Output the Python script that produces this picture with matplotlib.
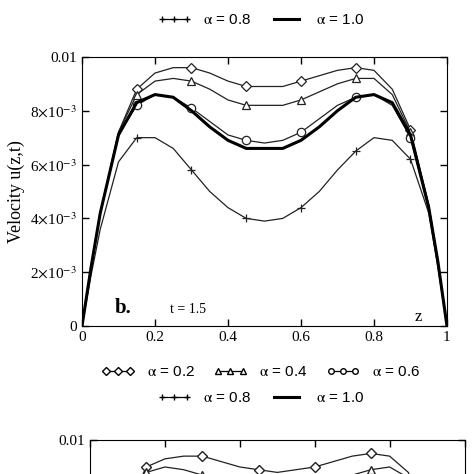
import numpy as np
from matplotlib import pyplot as plt
from matplotlib.lines import Line2D

plt.rc('font', family='Liberation Serif', size=11)
plt.rc('mathtext', fontset='stix')

# data
z = [0, 0.025, 0.05, 0.1, 0.15, 0.2, 0.25, 0.3, 0.35, 0.4, 0.45, 0.5, 0.55,
     0.6, 0.65, 0.7, 0.75, 0.8, 0.85, 0.9, 0.95, 0.975, 1]
u_02 = [0, 0.0022, 0.0042, 0.0072, 0.0088, 0.0094, 0.0096, 0.0096, 0.0094, 0.0091, 0.0089, 0.0089,
        0.0089, 0.0091, 0.0093, 0.0095, 0.0096, 0.0095, 0.0088, 0.0073, 0.0045, 0.0024, 0]
u_04 = [0, 0.0022, 0.0042, 0.0072, 0.0086, 0.0091, 0.0092, 0.0091, 0.0088, 0.0084, 0.0082, 0.0082,
        0.0082, 0.0084, 0.0087, 0.0090, 0.0092, 0.0092, 0.0086, 0.0072, 0.0045, 0.0024, 0]
u_06 = [0, 0.0022, 0.0042, 0.0071, 0.0082, 0.0086, 0.0085, 0.0081, 0.0076, 0.0071, 0.0069, 0.0068,
        0.0069, 0.0072, 0.0077, 0.0082, 0.0085, 0.0086, 0.0082, 0.0070, 0.0044, 0.0024, 0]
u_08 = [0, 0.0019, 0.0036, 0.0061, 0.0070, 0.0070, 0.0066, 0.0058, 0.0050, 0.0044, 0.0040, 0.0039,
        0.0040, 0.0044, 0.0050, 0.0058, 0.0065, 0.0070, 0.0069, 0.0062, 0.0042, 0.0022, 0]
u_10 = [0, 0.0022, 0.0042, 0.0071, 0.0083, 0.0086, 0.0085, 0.0080, 0.0074, 0.0069, 0.0066, 0.0066,
        0.0066, 0.0069, 0.0074, 0.0080, 0.0085, 0.0086, 0.0083, 0.0071, 0.0044, 0.0024, 0]
# lower (cut off) panel, only its top is visible
u_low_a = [0, 0.0022, 0.0042, 0.0075, 0.0090, 0.0093, 0.0094, 0.0094, 0.0092, 0.0090, 0.0089, 0.0088,
           0.0089, 0.0090, 0.0092, 0.0094, 0.0095, 0.0094, 0.0088, 0.0073, 0.0045, 0.0024, 0]
u_low_b = [0, 0.0022, 0.0042, 0.0074, 0.0088, 0.0090, 0.0089, 0.0087, 0.0085, 0.0083, 0.0082, 0.0082,
           0.0082, 0.0083, 0.0085, 0.0087, 0.0089, 0.0090, 0.0086, 0.0072, 0.0045, 0.0024, 0]

marks = [4, 7, 10, 13, 16, 19]
series = [(u_02, 'D', r'$\mathrm{\alpha}$ = 0.2'), (u_04, '^', r'$\mathrm{\alpha}$ = 0.4'),
          (u_06, 'o', r'$\mathrm{\alpha}$ = 0.6'), (u_08, '+', r'$\mathrm{\alpha}$ = 0.8')]

fig = plt.figure(figsize=(4.74, 4.74), dpi=100)


def style(ax, xlabels=True):
    ax.set_xlim(0, 1)
    ax.set_ylim(0, 0.01)
    ax.tick_params(direction='in', top=True, right=True, length=5, width=1, labelsize=11)
    ax.set_xticks([0, 0.2, 0.4, 0.6, 0.8, 1])
    ax.set_xticklabels(['0', '0.2', '0.4', '0.6', '0.8', '1'] if xlabels else [''] * 6)
    ax.set_yticks([0, 0.002, 0.004, 0.006, 0.008, 0.01])
    ax.set_yticklabels(['0', r'2$\times$10$^{-3}$', r'4$\times$10$^{-3}$',
                        r'6$\times$10$^{-3}$', r'8$\times$10$^{-3}$', '0.01'])


ax = fig.add_axes([0.173, 0.312, 0.77, 0.568])
style(ax)
for u, m, lab in series:
    ax.plot(z, u, color='#222', lw=0.9, marker=m, markevery=marks, ms=6 if m != 'D' else 5,
            mfc='white', mec='#222', mew=0.9)
ax.plot(z, u_10, color='black', lw=2.2)
ax.set_ylabel('Velocity u(z,t)', fontsize=13)
ax.text(0.09, 0.0005, 'b.', fontsize=15, fontweight='bold')
ax.text(0.24, 0.0005, 't = 1.5', fontsize=10)
ax.text(0.91, 0.0002, 'z', fontsize=12)

ax2 = fig.add_axes([0.19, -0.5, 0.79, 0.572])
style(ax2, xlabels=False)
ax2.plot(z, u_low_a, color='#222', lw=0.9, marker='D', markevery=marks, ms=5, mfc='white', mec='#222')
ax2.plot(z, u_low_b, color='#222', lw=0.9, marker='^', markevery=marks, ms=6, mfc='white', mec='#222')
ax2.set_yticklabels(['', '', '', '', '', '0.01'])


def handle(m, lw=0.9):
    return Line2D([0], [0], color='black', lw=lw, marker=m, ms=4, mfc='white', mec='black')


row1 = [handle('D'), handle('^'), handle('o')]
row2 = [handle('+'), handle(None, 2.2)]
lab1 = [s[2] for s in series[:3]]
lab2 = [r'$\mathrm{\alpha}$ = 0.8', r'$\mathrm{\alpha}$ = 1.0']
kw = dict(frameon=False, numpoints=3, handlelength=2.2, columnspacing=1.2,
          prop={'family': 'Liberation Sans', 'size': 11}, loc='center')
fig.legend(row1, lab1, ncol=3, bbox_to_anchor=(0.55, 1 - 372 / 474), **kw)
fig.legend(row2, lab2, ncol=2, bbox_to_anchor=(0.55, 1 - 398 / 474), **kw)
fig.legend(row1, lab1, ncol=3, bbox_to_anchor=(0.55, 1 + 6 / 474), **kw)
fig.legend(row2, lab2, ncol=2, bbox_to_anchor=(0.55, 1 - 20 / 474), **kw)

fig.savefig('out.png', dpi=100)
